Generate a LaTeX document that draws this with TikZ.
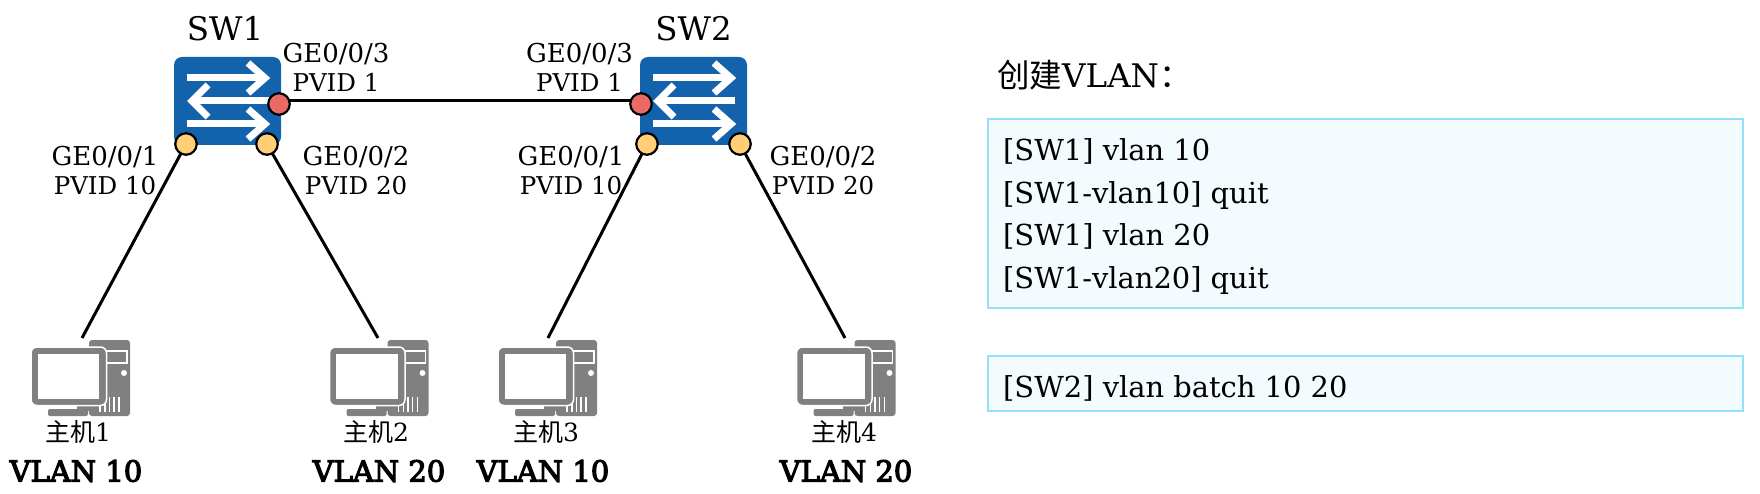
\documentclass[tikz,border=0pt]{standalone}
\usepackage{fontspec}
\setmainfont{DejaVu Serif}
\newfontfamily\cjk{Noto Sans CJK SC}
\newfontfamily\fakebold[FakeBold=4]{DejaVu Serif}
\definecolor{swblue}{HTML}{1262AC}
\definecolor{portred}{HTML}{EA6B66}
\definecolor{portyel}{HTML}{FFCE76}
\definecolor{hostgray}{HTML}{808080}
\definecolor{boxline}{HTML}{94E0F8}
\definecolor{boxfill}{HTML}{F3FBFE}
\newcommand\portlbl[2]{{\fontsize{26}{29}\selectfont #1}\\{\fontsize{24.5}{29}\selectfont #2}}
\tikzset{
 x=1pt,y=-1pt,
 port/.style={circle,draw=black,line width=2.2pt,minimum size=21.5pt,inner sep=0pt},
 red port/.style={port,fill=portred},
 yel port/.style={port,fill=portyel},
 link/.style={line width=3pt,black},
 lbl/.style={font=\fontsize{25}{29}\selectfont,align=center,inner sep=0pt,text=black},
 hostlbl/.style={font=\fontsize{25}{29}\selectfont,inner sep=0pt},
 vlanlbl/.style={font=\fontsize{29}{34}\fakebold,inner sep=0pt},
 swlbl/.style={font=\fontsize{32.5}{38}\selectfont,inner sep=0pt},
 cfg/.style={draw=boxline,fill=boxfill,line width=2pt,rectangle,minimum width=755pt,inner sep=0pt},
 cfgtext/.style={font=\fontsize{28.9}{42.6}\selectfont,align=left,inner sep=0pt,anchor=west},
 arroww/.style={white,line width=7pt},
 pics/switchbody/.style={code={
  \fill[swblue,rounded corners=8pt] (0,0) rectangle (107,88);
  \draw[arroww] (13,21) -- (90,21);
  \draw[arroww] (74,6) -- (91,21) -- (74,36);
  \draw[arroww] (95,44) -- (20,44);
  \draw[arroww] (34,28) -- (18,44) -- (34,60);
  \draw[arroww] (13,67) -- (90,67);
  \draw[arroww] (74,52) -- (91,67) -- (74,82);
 }},
 pics/hostpc/.style={code={
  \fill[hostgray,rounded corners=3pt] (58,-7) rectangle (99,69);
  \draw[white,line width=1.2pt] (75,4) rectangle (96,16);
  \fill[white] (93,26) circle (3pt);
  \foreach \xx in {69,74,78.5,83,88}{\draw[white,line width=1.2pt] (\xx,50) -- (\xx,65);}
  \fill[hostgray] (46,56) rectangle (59,64);
  \fill[hostgray,rounded corners=2pt] (17,62) rectangle (57,69);
  \draw[white,line width=1.5pt,fill=hostgray,rounded corners=6pt] (0,0) rectangle (75.5,58.5);
  \fill[white] (6.5,6.5) rectangle (68,52);
 }}
}
\begin{document}
\begin{tikzpicture}
\useasboundingbox (0,0) rectangle (1760,494);
% switches
\pic at (174,57) {switchbody};
\pic at (640,57) {switchbody};
% hosts
\pic at (31,347) {hostpc};
\pic at (329.5,347) {hostpc};
\pic at (498,347) {hostpc};
\pic at (796.5,347) {hostpc};
% ports
\coordinate (h1) at (82,338);
\coordinate (h2) at (378,338);
\coordinate (h3) at (548,338);
\coordinate (h4) at (845,338);
\coordinate (l1) at (279,100.5);
\coordinate (l2) at (641,100.5);
\draw[link] (l1) -- (l2);
\draw[link] (186,144) coordinate (c11) -- (h1);
\draw[link] (267,144) coordinate (c12) -- (h2);
\draw[link] (647,144) coordinate (c21) -- (h3);
\draw[link] (740,144) coordinate (c22) -- (h4);
\node[red port] (p13) at (279,104) {};
\node[red port] (p23) at (641,104) {};
\node[yel port] (p11) at (c11) {};
\node[yel port] (p12) at (c12) {};
\node[yel port] (p21) at (c21) {};
\node[yel port] (p22) at (c22) {};
% labels
\node[swlbl] (sw1) at (225,29) {SW1};
\node[swlbl] (sw2) at (693.5,29) {SW2};
\node[lbl] (a3) at (336,67) {\portlbl{GE0/0/3}{PVID 1}};
\node[lbl] (b3) at (579.5,67) {\portlbl{GE0/0/3}{PVID 1}};
\node[lbl] (a1) at (105,171) {\portlbl{GE0/0/1}{PVID 10}};
\node[lbl] (a2) at (356,171) {\portlbl{GE0/0/2}{PVID 20}};
\node[lbl] (b1) at (571,171) {\portlbl{GE0/0/1}{PVID 10}};
\node[lbl] (b2) at (823,171) {\portlbl{GE0/0/2}{PVID 20}};
\node[hostlbl] (t1) at (78,432) {{\cjk 主机}1};
\node[hostlbl] (t2) at (376,432) {{\cjk 主机}2};
\node[hostlbl] (t3) at (546,432) {{\cjk 主机}3};
\node[hostlbl] (t4) at (844,432) {{\cjk 主机}4};
\node[vlanlbl] (v1) at (76,471) {VLAN 10};
\node[vlanlbl] (v2) at (379,471) {VLAN 20};
\node[vlanlbl] (v3) at (543,471) {VLAN 10};
\node[vlanlbl] (v4) at (846,471) {VLAN 20};
\node[font=\fontsize{32.5}{38}\selectfont,inner sep=0pt,anchor=west] (title) at (997,75) {{\cjk 创建}VLAN{\cjk ：}};
\node[cfg,minimum height=189pt] (box1) at (1365.5,213.5) {};
\node[cfg,minimum height=55pt] (box2) at (1365.5,383.5) {};
\node[cfgtext] (c1) at (1003,216.5) {{[SW1] vlan 10}\\{[SW1-vlan10] quit}\\{[SW1] vlan 20}\\{[SW1-vlan20] quit}};
\node[cfgtext] (c2) at (1003,388) {{[SW2] vlan batch 10 20}};
\end{tikzpicture}
\end{document}
